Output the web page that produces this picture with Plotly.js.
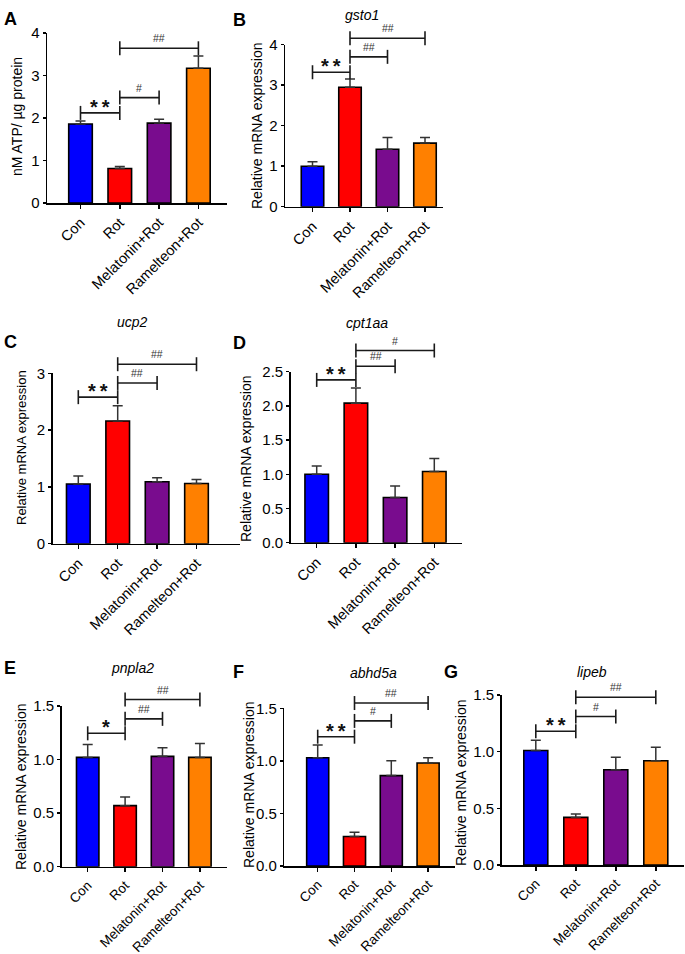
<!DOCTYPE html>
<html><head><meta charset="utf-8">
<script src="https://cdn.plot.ly/plotly-3.0.1.min.js"></script>
<style>html,body{margin:0;padding:0;background:#fff}#chart{width:685px;height:954px}</style>
</head><body><div id="chart"></div>
<script>
// ---------- DATA ----------
const groups = ["Con", "Rot", "Melatonin+Rot", "Ramelteon+Rot"];
const sigPairs = [[0, 1], [1, 2], [1, 3]];

const meanA = [1.86, 0.81, 1.88, 3.17];
const errA  = [0.07, 0.05, 0.09, 0.29];
const sigLevelA = [2.12, 2.48, 3.64];
const sigTextA  = ["**", "#", "##"];

const meanB = [1.00, 2.95, 1.42, 1.57];
const errB  = [0.11, 0.20, 0.29, 0.14];
const sigLevelB = [3.32, 3.70, 4.16];
const sigTextB  = ["**", "##", "##"];

const meanC = [1.05, 2.16, 1.09, 1.06];
const errC  = [0.14, 0.27, 0.07, 0.07];
const sigLevelC = [2.58, 2.83, 3.16];
const sigTextC  = ["**", "##", "##"];

const meanD = [1.00, 2.04, 0.66, 1.04];
const errD  = [0.12, 0.22, 0.17, 0.19];
const sigLevelD = [2.38, 2.58, 2.81];
const sigTextD  = ["**", "##", "#"];

const meanE = [1.02, 0.57, 1.03, 1.02];
const errE  = [0.12, 0.08, 0.08, 0.13];
const sigLevelE = [1.245, 1.38, 1.56];
const sigTextE  = ["*", "##", "##"];

const meanF = [1.03, 0.28, 0.86, 0.98];
const errF  = [0.12, 0.04, 0.14, 0.05];
const sigLevelF = [1.23, 1.38, 1.55];
const sigTextF  = ["**", "#", "##"];

const meanG = [1.01, 0.42, 0.84, 0.92];
const errG  = [0.09, 0.03, 0.11, 0.12];
const sigLevelG = [1.18, 1.31, 1.48];
const sigTextG  = ["**", "#", "##"];

const panelLetters = ["A", "B", "C", "D", "E", "F", "G"];
const geneTitles = ["", "gsto1", "ucp2", "cpt1aa", "pnpla2", "abhd5a", "lipeb"];
const yTitles = ["nM ATP/ µg protein", "Relative mRNA expression", "Relative mRNA expression",
  "Relative mRNA expression", "Relative mRNA expression", "Relative mRNA expression", "Relative mRNA expression"];
const yTops = [4, 4, 3, 2.5, 1.5, 1.5, 1.5];
const yDticks = [1, 1, 1, 0.5, 0.5, 0.5, 0.5];
const yFormats = ["d", "d", "d", ".1f", ".1f", ".1f", ".1f"];

// ---------- STYLE / LAYOUT (pixels) ----------
const W = 685, H = 954;
const barColors = ["#0000FF", "#FF0000", "#790C8E", "#FF8000"];
const FONT = "Liberation Sans, Arial, sans-serif";
// axL: y-axis line x, axR: x-axis end, y0: pixel of zero, yT: pixel of top tick, c0: first bar centre, step: bar spacing
const geo = [
  {axL: 47,    axR: 227,   y0: 203,   yT: 33,    c0: 80.5,  step: 39.3, xfs: 14.5, letter: [2, 19],   title: null,       ytl: [17, 117]},
  {axL: 285,   axR: 443,   y0: 206.7, yT: 44.7,  c0: 312.5, step: 37.5, xfs: 14.5, letter: [231, 20], title: [362, 15],  ytl: [257, 126]},
  {axL: 52.7,  axR: 240,   y0: 543.7, yT: 373.3, c0: 78.3,  step: 39.4, xfs: 14.5, letter: [2, 342],  title: [132, 322], ytl: [22, 448]},
  {axL: 290.7, axR: 461.7, y0: 542.7, yT: 371.7, c0: 316.7, step: 39.2, xfs: 14.5, letter: [231, 343], title: [367, 323], ytl: [246, 459]},
  {axL: 61.7,  axR: 226.7, y0: 866.7, yT: 706,   c0: 87.7,  step: 37.4, xfs: 13.5, letter: [2, 668],  title: [132, 668], ytl: [21, 787]},
  {axL: 284.3, axR: 455,   y0: 866,   yT: 708.3, c0: 317.7, step: 36.8, xfs: 13.5, letter: [231, 672], title: [374, 673], ytl: [249, 785]},
  {axL: 501.7, axR: 684,   y0: 865,   yT: 695,   c0: 535.8, step: 40.0, xfs: 13.5, letter: [442, 672], title: [592, 672], ytl: [461, 783]}
];
const EXT = 32; // extra pixels above the top tick for the significance layer

const means = [meanA, meanB, meanC, meanD, meanE, meanF, meanG];
const errs = [errA, errB, errC, errD, errE, errF, errG];
const sigLevels = [sigLevelA, sigLevelB, sigLevelC, sigLevelD, sigLevelE, sigLevelF, sigLevelG];
const sigTexts = [sigTextA, sigTextB, sigTextC, sigTextD, sigTextE, sigTextF, sigTextG];

const px = x => x / W;
const py = y => 1 - y / H;

const data = [];
const layout = {
  width: W, height: H,
  margin: {l: 0, r: 0, t: 0, b: 0},
  paper_bgcolor: "#ffffff", plot_bgcolor: "rgba(0,0,0,0)",
  showlegend: false,
  font: {family: FONT, color: "#000"},
  annotations: [], shapes: []
};

geo.forEach((g, i) => {
  const k = i + 1;
  const xa = k === 1 ? "x" : "x" + k;
  const ya = k === 1 ? "y" : "y" + k;
  const sk = 8 + i;             // significance-layer y axis
  const ys = "y" + sk;
  const xRange = [(g.axL - g.c0) / g.step, (g.axR - g.c0) / g.step];

  layout["xaxis" + (k === 1 ? "" : k)] = {
    domain: [px(g.axL), px(g.axR)], anchor: ya, type: "category",
    range: xRange, showgrid: false, zeroline: false,
    showline: true, linecolor: "#000", linewidth: 1.5,
    ticks: "outside", ticklen: 4, tickwidth: 1.5, tickcolor: "#000",
    tickangle: -45, tickfont: {size: g.xfs, family: FONT, color: "#000"},
    fixedrange: true
  };
  layout["yaxis" + (k === 1 ? "" : k)] = {
    domain: [py(g.y0), py(g.yT)], anchor: xa,
    range: [0, yTops[i]], dtick: yDticks[i], tick0: 0, tickformat: yFormats[i],
    showgrid: false, zeroline: false,
    showline: true, linecolor: "#000", linewidth: 1.5,
    ticks: "outside", ticklen: 3, tickwidth: 1.5, tickcolor: "#000",
    tickfont: {size: 15, family: FONT, color: "#000"}, fixedrange: true
  };
  // taller invisible axis with the same data-to-pixel scale, for the brackets
  const topS = yTops[i] * (g.y0 - (g.yT - EXT)) / (g.y0 - g.yT);
  layout["yaxis" + sk] = {
    domain: [py(g.y0), py(g.yT - EXT)], anchor: xa,
    range: [0, topS], visible: false, fixedrange: true
  };

  data.push({
    type: "bar", x: groups, y: means[i], xaxis: xa, yaxis: ya, width: 0.6,
    marker: {color: barColors, line: {color: "#000", width: 1.6}},
    error_y: {type: "data", symmetric: false, array: errs[i], arrayminus: errs[i].map(() => 0),
              color: "#333", thickness: 1.5, width: 5},
    hoverinfo: "skip"
  });

  const bx = [], by = [];
  sigPairs.forEach((p, j) => {
    bx.push(groups[p[0]], groups[p[1]], null);
    by.push(sigLevels[i][j], sigLevels[i][j], null);
    const isStar = sigTexts[i][j].indexOf("*") >= 0;
    layout.annotations.push({
      xref: xa, yref: ys, x: (p[0] + p[1]) / 2, y: sigLevels[i][j],
      text: isStar ? sigTexts[i][j].split("").join("\u2009") : sigTexts[i][j],
      showarrow: false, xanchor: "center", yanchor: "middle",
      yshift: isStar ? 6 : 10,
      font: isStar ? {size: 20, family: FONT, color: "#111", weight: "bold"} : {size: 10.5, family: FONT, color: "#333"}
    });
  });
  data.push({
    type: "scatter", mode: "lines+markers", x: bx, y: by, xaxis: xa, yaxis: ys,
    line: {color: "#1a1a1a", width: 1.6},
    marker: {symbol: "line-ns-open", size: 10, line: {color: "#1a1a1a", width: 1.6}},
    connectgaps: false, hoverinfo: "skip", cliponaxis: false
  });

  layout.annotations.push({
    xref: "paper", yref: "paper", x: px(g.letter[0]), y: py(g.letter[1]),
    xanchor: "left", yanchor: "middle", showarrow: false, text: "<b>" + panelLetters[i] + "</b>",
    font: {size: 18, family: FONT, color: "#000"}
  });
  if (g.title) {
    layout.annotations.push({
      xref: "paper", yref: "paper", x: px(g.title[0]), y: py(g.title[1]),
      xanchor: "center", yanchor: "middle", showarrow: false, text: "<i>" + geneTitles[i] + "</i>",
      font: {size: 14, family: FONT, color: "#000"}
    });
  }
  layout.annotations.push({
    xref: "paper", yref: "paper", x: px(g.ytl[0]), y: py(g.ytl[1]),
    xanchor: "center", yanchor: "middle", showarrow: false, textangle: -90, text: yTitles[i],
    font: {size: i === 2 ? 13 : 14, family: FONT, color: "#000"}
  });
});

Plotly.newPlot("chart", data, layout, {displayModeBar: false, staticPlot: true});
</script>
</body></html>
